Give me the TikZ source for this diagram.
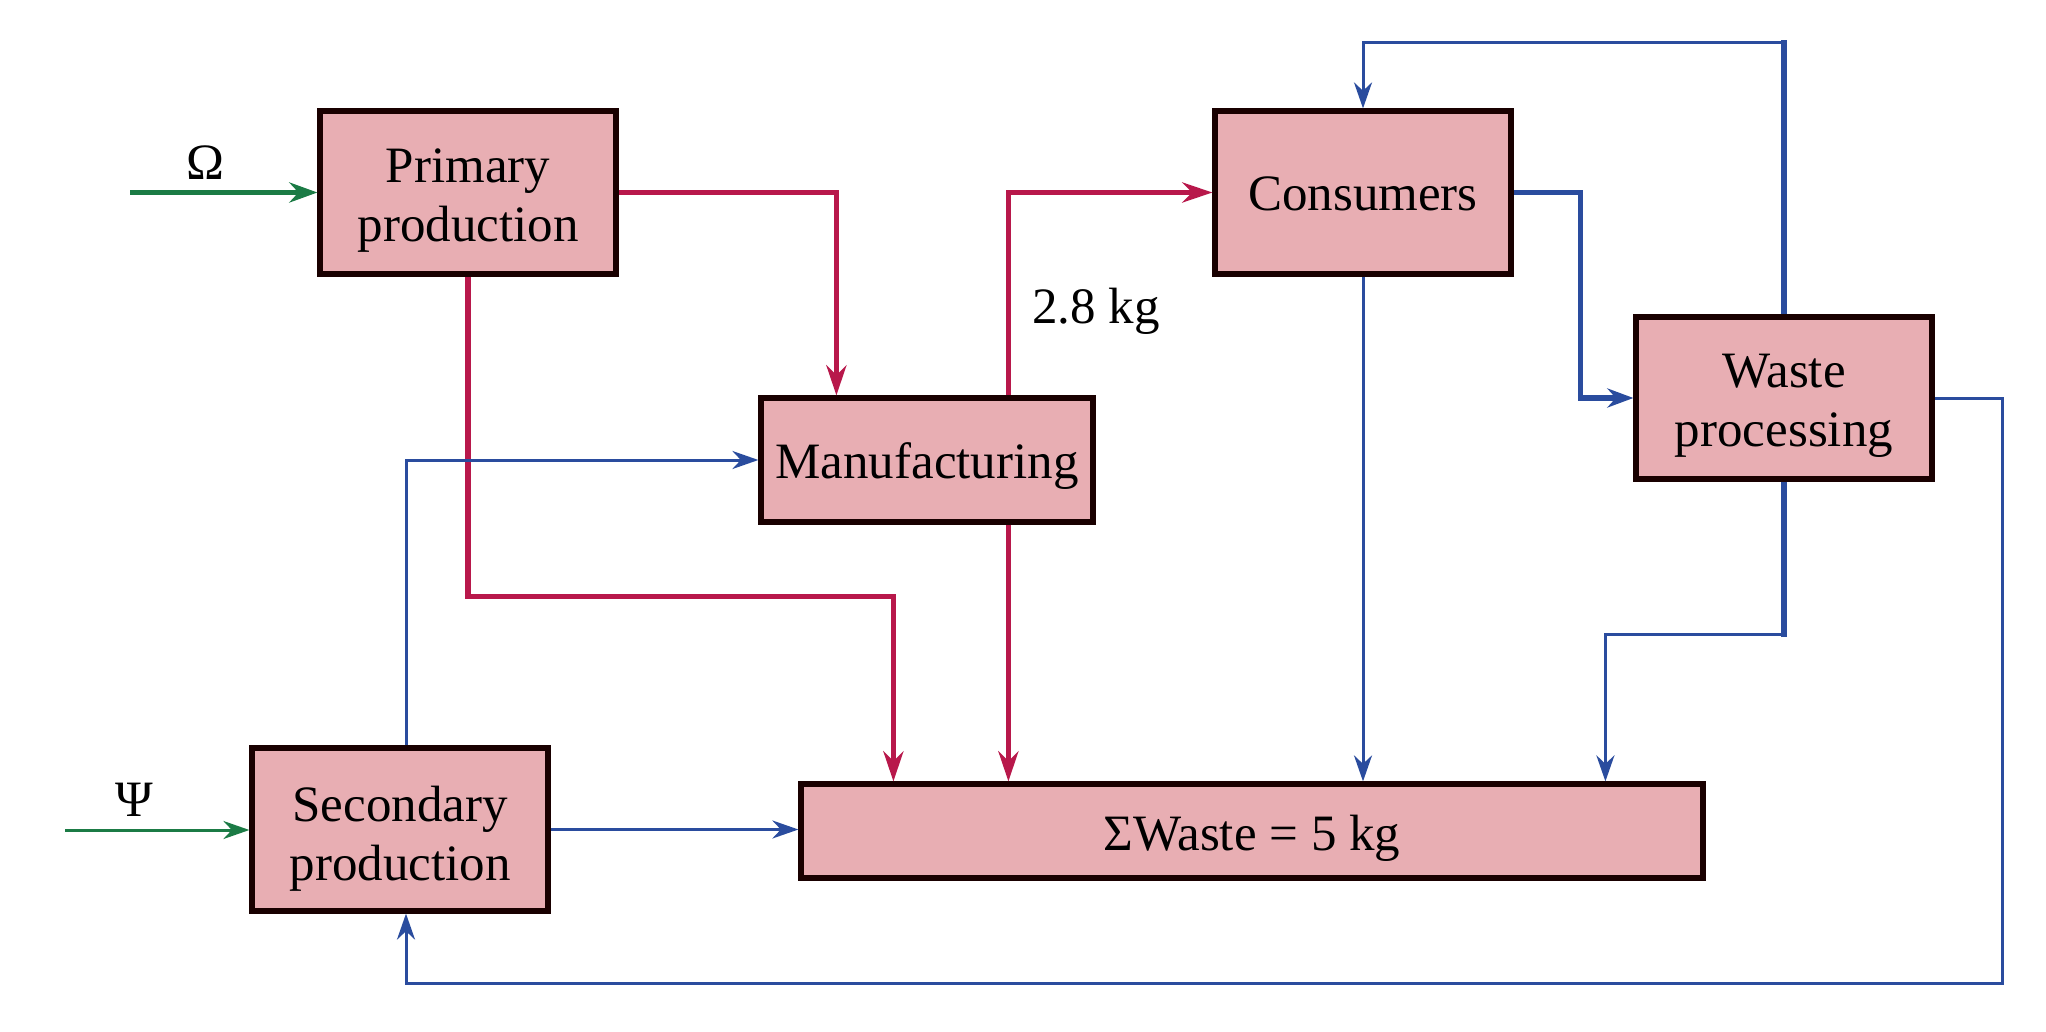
\documentclass[tikz,border=0pt]{standalone}
\usepackage{fontspec}
\setmainfont{Liberation Serif}
\usetikzlibrary{arrows.meta,calc}
\definecolor{boxfill}{HTML}{E8AEB3}
\definecolor{flowred}{HTML}{B8184B}
\definecolor{flowblue}{HTML}{2A4C9E}
\definecolor{flowgreen}{HTML}{1B7B45}
\begin{document}
\begin{tikzpicture}[x=0.5pt,y=-0.5pt,
  box/.style={draw=black!90!red, line width=2.6pt, fill=boxfill, inner sep=0pt},
  txt/.style={inner sep=0pt, align=center, font=\fontsize{25.5}{29.5}\selectfont},
  oneline/.style={txt, text height=17pt, text depth=5.5pt},
  lbl/.style={inner sep=0pt, font=\fontsize{25.5}{29.5}\selectfont},
  redflow/.style={draw=flowred, line width=2.8pt, -{Stealth[length=15pt,width=10pt]}},
  blueflow/.style={draw=flowblue, line width=1.5pt, -{Stealth[length=13pt,width=9pt]}},
  bluebold/.style={draw=flowblue, line width=2.8pt, line join=miter},
  bluethick/.style={draw=flowblue, line width=2.8pt, -{Stealth[length=13pt,width=9.5pt]}},
  greenflow/.style={draw=flowgreen, line width=2.6pt, -{Stealth[length=14pt,width=10pt]}},
  greenthin/.style={draw=flowgreen, line width=1.5pt, -{Stealth[length=13pt,width=9pt]}}
]
\useasboundingbox[fill=white] (0,0) rectangle (2046,1032);

% boxes
\node[box, minimum width=148pt, minimum height=81.5pt] (prim) at (468,192.5) {};
\node[box, minimum width=166pt, minimum height=62pt] (manu) at (927,460) {};
\node[box, minimum width=148pt, minimum height=81.5pt] (cons) at (1363,192.5) {};
\node[box, minimum width=148pt, minimum height=81pt] (wp) at (1784,398) {};
\node[box, minimum width=148pt, minimum height=81.5pt] (sec) at (400,829.5) {};
\node[box, minimum width=451pt, minimum height=47pt] (waste) at (1252,831) {};

% box texts
\node[txt] (primtext) at ([yshift=-4pt]prim.center) {Primary\\production};
\node[oneline] (manutext) at ([yshift=-3.6pt]manu.center) {Manufacturing};
\node[oneline] (constext) at ([yshift=-3.4pt]cons.center) {Consumers};
\node[txt] (wptext) at ([yshift=-4pt]wp.center) {Waste\\processing};
\node[txt] (sectext) at ([yshift=-4.5pt]sec.center) {Secondary\\production};
\node[oneline] (wastetext) at ([yshift=-4pt]waste.center) {ΣWaste = 5 kg};

% labels
\node[lbl] (omega) at (205,163) {Ω};
\node[lbl] (psi) at (134,800) {Ψ};
\node[lbl] (kg) at (1096,311) {2.8 kg};

% inputs
\coordinate (omegastart) at (130,192.5);
\coordinate (psistart) at (65,830);
\draw[greenflow] (omegastart) -- (prim.west);
\draw[greenthin] (psistart) -- (psistart -| sec.west);

% red flows
\draw[redflow] (prim.east) -| ([xshift=39pt]manu.north west);
\draw[redflow] (prim.south) -- ++(0,320) -| ([xshift=47.5pt]waste.north west);
\draw[redflow] ([xshift=125pt]manu.north west) |- (cons.west);
\draw[redflow] ([xshift=125pt]manu.south west) -- ([xshift=125pt]manu.south west |- waste.north);

% blue flows
\draw[blueflow] ([xshift=3pt]sec.north) |- (manu.west);
\draw[blueflow] (sec.east) -- (sec.east -| waste.west);
\draw[blueflow] (cons.south) -- (cons.south |- waste.north);
\draw[bluethick] (cons.east) -- ++(67,0) |- (wp.west);

\coordinate (topline) at (0,43);
\coordinate (topcorner) at (wp.north |- topline);
\draw[bluebold] (wp.north) -- (topcorner) -- ([xshift=-1.4pt]topcorner);
\draw[blueflow] (topcorner) -| (cons.north);

\coordinate (lowcorner) at ([yshift=-76.5pt]wp.south);
\draw[bluebold] (wp.south) -- (lowcorner) -- ([xshift=-1.4pt]lowcorner);
\draw[blueflow] (lowcorner) -| ([xshift=403.5pt]waste.north west);

\draw[blueflow] (wp.east) -- ++(68,0) -- ++(0,585) -| ([xshift=3pt]sec.south);
\end{tikzpicture}
\end{document}
